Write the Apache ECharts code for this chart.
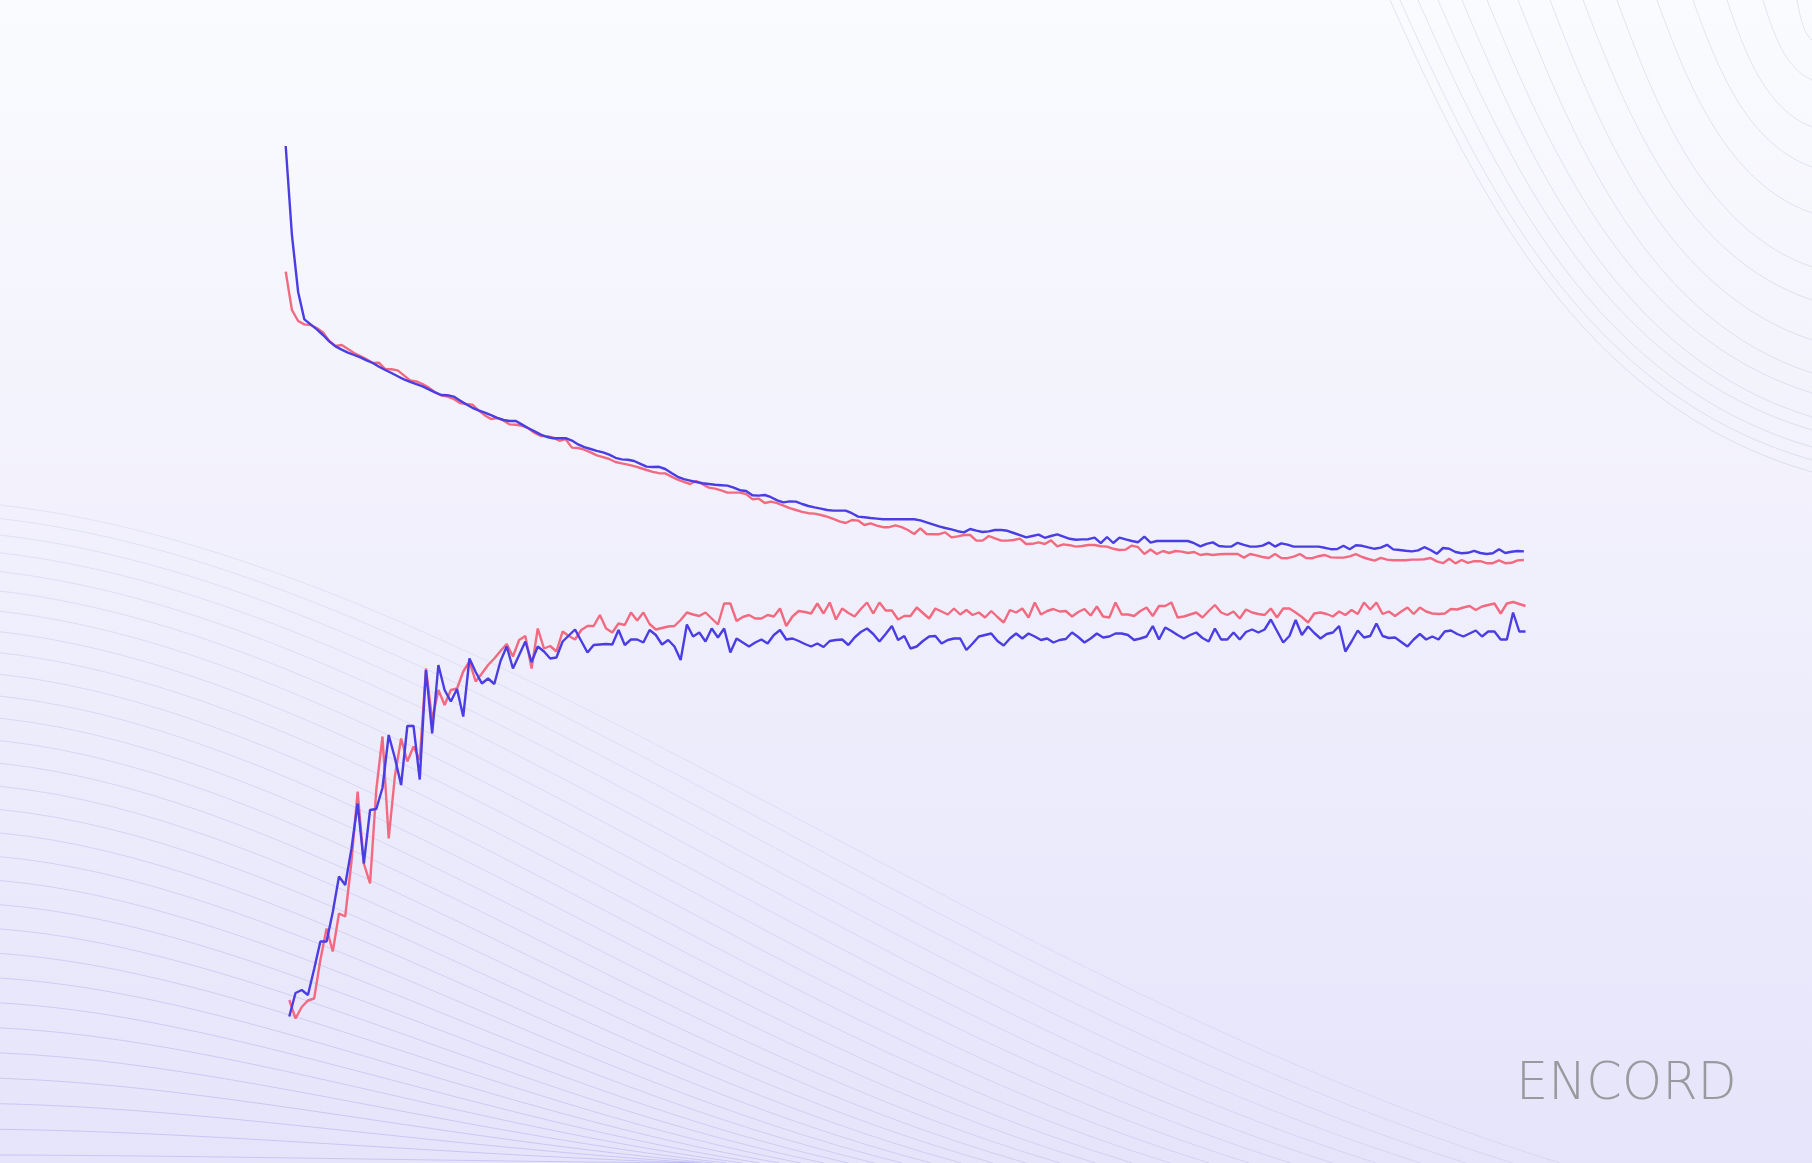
<!DOCTYPE html>
<html><head><meta charset="utf-8">
<script src="https://cdn.jsdelivr.net/npm/echarts@6/dist/echarts.min.js"></script>
<style>html,body{margin:0;padding:0;width:1812px;height:1163px;overflow:hidden}#c{width:1812px;height:1163px}</style>
</head><body><div id="c"></div>
<script>
// ---- data ----
const epochs = Array.from({length: 200}, (_, i) => i + 1);

const trainLoss = [
2.270,1.825,1.540,1.403,1.378,1.353,1.325,1.293,1.268,1.252,
1.237,1.225,1.213,1.198,1.185,1.166,1.150,1.135,1.119,1.103,
1.091,1.079,1.068,1.053,1.038,1.025,1.024,1.017,0.998,0.979,
0.961,0.948,0.937,0.924,0.911,0.900,0.895,0.895,0.877,0.859,
0.843,0.827,0.815,0.809,0.809,0.809,0.797,0.778,0.764,0.755,
0.746,0.738,0.727,0.711,0.703,0.701,0.695,0.681,0.667,0.665,
0.666,0.655,0.635,0.616,0.604,0.597,0.590,0.584,0.580,0.576,
0.574,0.572,0.562,0.549,0.545,0.524,0.522,0.525,0.514,0.498,
0.488,0.493,0.492,0.480,0.470,0.463,0.457,0.450,0.447,0.447,
0.447,0.434,0.417,0.414,0.410,0.407,0.404,0.404,0.404,0.404,
0.404,0.404,0.398,0.388,0.378,0.368,0.360,0.353,0.344,0.338,
0.355,0.347,0.340,0.343,0.350,0.350,0.346,0.335,0.324,0.313,
0.320,0.327,0.311,0.320,0.328,0.317,0.306,0.301,0.303,0.304,
0.312,0.284,0.315,0.285,0.312,0.303,0.295,0.289,0.317,0.287,
0.295,0.295,0.295,0.295,0.295,0.295,0.284,0.268,0.281,0.288,
0.270,0.267,0.267,0.286,0.276,0.267,0.267,0.272,0.287,0.267,
0.283,0.277,0.267,0.267,0.267,0.267,0.267,0.261,0.254,0.255,
0.271,0.254,0.274,0.271,0.263,0.256,0.262,0.276,0.253,0.250,
0.246,0.243,0.248,0.264,0.250,0.231,0.260,0.256,0.240,0.234,
0.236,0.246,0.235,0.230,0.234,0.254,0.235,0.241,0.245,0.243];

const valLoss = [
1.642,1.450,1.395,1.378,1.375,1.360,1.338,1.295,1.270,1.275,
1.255,1.235,1.220,1.204,1.185,1.186,1.154,1.154,1.148,1.123,
1.098,1.093,1.080,1.062,1.039,1.023,1.017,1.005,0.985,0.980,
0.977,0.948,0.923,0.905,0.910,0.898,0.878,0.876,0.871,0.859,
0.835,0.820,0.819,0.812,0.796,0.804,0.762,0.760,0.752,0.738,
0.723,0.714,0.705,0.690,0.683,0.677,0.669,0.660,0.650,0.641,
0.634,0.633,0.617,0.602,0.591,0.580,0.595,0.579,0.562,0.557,
0.548,0.537,0.537,0.537,0.530,0.504,0.507,0.485,0.492,0.484,
0.472,0.459,0.450,0.441,0.434,0.432,0.425,0.417,0.406,0.393,
0.385,0.400,0.397,0.375,0.383,0.372,0.364,0.364,0.373,0.364,
0.350,0.330,0.358,0.330,0.329,0.329,0.338,0.313,0.318,0.325,
0.325,0.297,0.297,0.320,0.308,0.297,0.297,0.300,0.307,0.280,
0.281,0.288,0.280,0.298,0.268,0.278,0.274,0.267,0.270,0.275,
0.275,0.269,0.267,0.256,0.250,0.252,0.272,0.264,0.230,0.252,
0.230,0.245,0.235,0.245,0.242,0.235,0.240,0.225,0.230,0.225,
0.229,0.230,0.230,0.230,0.212,0.230,0.223,0.215,0.210,0.230,
0.210,0.209,0.217,0.230,0.210,0.209,0.219,0.225,0.213,0.212,
0.212,0.218,0.229,0.215,0.205,0.197,0.211,0.202,0.199,0.199,
0.199,0.202,0.202,0.204,0.210,0.193,0.184,0.206,0.183,0.200,
0.186,0.194,0.194,0.184,0.184,0.198,0.184,0.186,0.198,0.200];

const trainAcc = [
0.093,0.140,0.146,0.136,0.188,0.243,0.243,0.302,0.373,0.356,
0.428,0.519,0.399,0.506,0.508,0.550,0.656,0.610,0.556,0.674,
0.674,0.567,0.786,0.659,0.796,0.746,0.723,0.748,0.693,0.809,
0.782,0.759,0.769,0.758,0.804,0.833,0.789,0.816,0.843,0.802,
0.833,0.823,0.809,0.811,0.843,0.855,0.867,0.844,0.821,0.836,
0.837,0.838,0.837,0.866,0.836,0.847,0.847,0.841,0.866,0.856,
0.837,0.846,0.833,0.806,0.877,0.853,0.861,0.843,0.869,0.851,
0.869,0.821,0.849,0.841,0.833,0.841,0.847,0.839,0.856,0.866,
0.847,0.849,0.844,0.838,0.833,0.839,0.832,0.844,0.846,0.847,
0.836,0.851,0.862,0.869,0.858,0.843,0.858,0.874,0.846,0.854,
0.829,0.833,0.844,0.853,0.854,0.839,0.846,0.849,0.849,0.826,
0.839,0.853,0.856,0.859,0.844,0.835,0.849,0.859,0.849,0.859,
0.853,0.846,0.849,0.841,0.846,0.848,0.861,0.852,0.841,0.849,
0.859,0.851,0.853,0.859,0.859,0.856,0.846,0.849,0.853,0.874,
0.847,0.871,0.864,0.856,0.849,0.856,0.861,0.850,0.843,0.869,
0.847,0.847,0.861,0.847,0.862,0.867,0.861,0.867,0.887,0.864,
0.841,0.854,0.886,0.856,0.873,0.860,0.849,0.858,0.861,0.874,
0.823,0.843,0.865,0.851,0.854,0.879,0.854,0.850,0.851,0.842,
0.833,0.847,0.858,0.847,0.853,0.847,0.863,0.865,0.858,0.853,
0.859,0.865,0.853,0.863,0.863,0.847,0.847,0.901,0.863,0.863];

const valAcc = [
0.126,0.089,0.112,0.125,0.129,0.206,0.269,0.223,0.299,0.293,
0.402,0.543,0.399,0.359,0.546,0.653,0.449,0.574,0.649,0.603,
0.633,0.606,0.789,0.686,0.746,0.716,0.746,0.749,0.783,0.803,
0.763,0.779,0.796,0.809,0.824,0.838,0.813,0.846,0.854,0.789,
0.869,0.829,0.834,0.823,0.863,0.854,0.847,0.866,0.874,0.874,
0.896,0.869,0.861,0.879,0.876,0.901,0.885,0.901,0.878,0.867,
0.870,0.873,0.874,0.886,0.901,0.897,0.894,0.901,0.889,0.877,
0.919,0.919,0.884,0.892,0.896,0.889,0.889,0.896,0.893,0.909,
0.874,0.893,0.904,0.902,0.899,0.919,0.899,0.921,0.887,0.909,
0.900,0.893,0.908,0.921,0.899,0.921,0.905,0.905,0.887,0.894,
0.894,0.911,0.900,0.889,0.909,0.903,0.897,0.909,0.897,0.906,
0.896,0.901,0.891,0.904,0.892,0.881,0.906,0.901,0.909,0.891,
0.921,0.897,0.904,0.908,0.903,0.904,0.893,0.902,0.908,0.895,
0.913,0.893,0.891,0.921,0.897,0.897,0.894,0.904,0.911,0.894,
0.914,0.914,0.921,0.891,0.893,0.897,0.901,0.891,0.904,0.916,
0.901,0.896,0.903,0.889,0.907,0.901,0.898,0.896,0.909,0.891,
0.909,0.909,0.901,0.892,0.881,0.899,0.901,0.898,0.893,0.903,
0.896,0.906,0.898,0.921,0.907,0.921,0.898,0.903,0.894,0.903,
0.911,0.898,0.911,0.903,0.899,0.898,0.899,0.908,0.907,0.911,
0.914,0.906,0.913,0.916,0.919,0.899,0.919,0.922,0.918,0.914];

// ---- styling / decoration ----
const BLUE = '#4a3de4';
const PINK = '#f26a80';

const decor = [];
// top-right sweep of thin lines
const trStartX = [1390,1400,1418,1438,1462,1487,1518,1550,1583,1617,1657,1693,1727,1763,1797];
const trEndY   = [472,460,447,430,417,393,373,340,300,267,213,167,127,80,40];
for (let k = 0; k < trStartX.length; k++) {
  const s = trStartX[k], e = trEndY[k], w = 1812 - s;
  decor.push({type:'bezierCurve', silent:true, z:-5,
    shape:{x1:s, y1:0, cpx1:s + 0.2*w, cpy1:0.4*e, cpx2:s + 0.45*w, cpy2:0.86*e, x2:1812, y2:e},
    style:{stroke:'rgba(150,150,190,0.22)', lineWidth:1, fill:null}});
}
// bottom-left ribbon of thin lines
const nBL = 30;
for (let k = 0; k < nBL; k++) {
  const t = k / (nBL - 1);
  const y0 = 505 + 650 * Math.pow(t, 1.15);
  const x3 = 690 + 870 * Math.pow(1 - t, 1.6);
  const h = 1163 - y0;
  decor.push({type:'bezierCurve', silent:true, z:-5,
    shape:{x1:0, y1:y0, cpx1:0.3*x3, cpy1:y0 + 0.08*h, cpx2:0.62*x3, cpy2:y0 + 0.72*h, x2:x3, y2:1163},
    style:{stroke:'rgba(' + Math.round(130 - 20*t) + ',' + Math.round(120 - 20*t) + ',' + Math.round(195 + 40*t) + ',' + (0.13 + 0.12*t).toFixed(3) + ')', lineWidth:1, fill:null}});
}
decor.push({type:'text', silent:true, left:1516, top:1060,
  style:{text:'ENCORD', fill:'#9a9a9e', font:'200 51px "DejaVu Sans", Lato, sans-serif'}});

const chart = echarts.init(document.getElementById('c'), null, {renderer:'canvas'});
chart.setOption({
  animation:false,
  backgroundColor: new echarts.graphic.LinearGradient(0,0,0,1,[
    {offset:0, color:'#fafbfe'},{offset:0.5, color:'#f0effc'},{offset:1, color:'#e6e4fa'}]),
  graphic: decor,
  grid:[
    {left:285.7, top:100, width:1238.2, height:500},
    {left:289.3, top:563, width:1236.2, height:500}
  ],
  xAxis:[
    {type:'category', gridIndex:0, data:epochs, boundaryGap:false, show:false},
    {type:'category', gridIndex:1, data:epochs, boundaryGap:false, show:false}
  ],
  yAxis:[
    {type:'value', gridIndex:0, min:0, max:2.5, show:false},
    {type:'value', gridIndex:1, min:0, max:1, show:false}
  ],
  series:[
    {name:'train loss', type:'line', xAxisIndex:0, yAxisIndex:0, data:trainLoss, showSymbol:false, z:5,
      lineStyle:{color:BLUE, width:2.4}},
    {name:'val loss', type:'line', xAxisIndex:0, yAxisIndex:0, data:valLoss, showSymbol:false, z:4,
      lineStyle:{color:PINK, width:2.4}},
    {name:'val accuracy', type:'line', xAxisIndex:1, yAxisIndex:1, data:valAcc, showSymbol:false, z:4,
      lineStyle:{color:PINK, width:2.4}},
    {name:'train accuracy', type:'line', xAxisIndex:1, yAxisIndex:1, data:trainAcc, showSymbol:false, z:5,
      lineStyle:{color:BLUE, width:2.4}}
  ]
});
</script></body></html>
